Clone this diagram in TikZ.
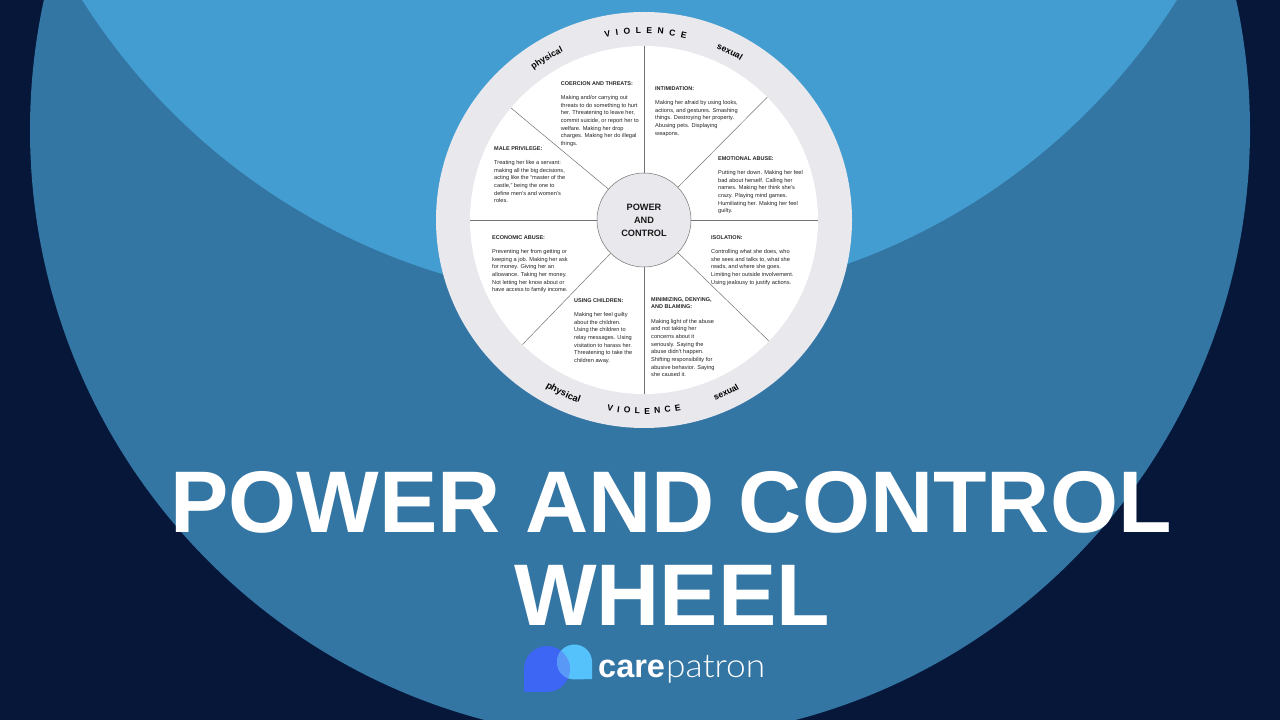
\documentclass[tikz,border=0pt]{standalone}
\usepackage{fontspec}
\usetikzlibrary{decorations.text}
\setmainfont{Liberation Sans}
\newfontfamily\logolight{Lato Light}
\definecolor{navybg}{HTML}{06173A}
\definecolor{midblue}{HTML}{3375A3}
\definecolor{skyblue}{HTML}{439DD0}
\definecolor{rimgrey}{HTML}{E8E8ED}
\definecolor{logoblue}{HTML}{3D66F5}
\definecolor{logosky}{HTML}{55C2FC}
\definecolor{logomix}{HTML}{5A98F8}
\tikzset{
  spoke/.style={draw=black!55,line width=0.5pt},
  wedgetext/.style={anchor=north west,inner sep=0pt,align=left,text=black!85,
    font=\fontsize{5.65}{7.65}\selectfont},
  arcword/.style={decorate,decoration={text along path,text align={center},
    text={|\fontsize{8.7}{10}\selectfont\bfseries|#1}}},
  arcwordb/.style={decorate,decoration={text along path,text align={center},
    text={|\fontsize{9.3}{10}\selectfont\bfseries|#1}}},
  arcfit/.style={decorate,decoration={text along path,text align={fit to path},
    text={|\fontsize{8.6}{10}\selectfont\bfseries|#1}}},
  titletext/.style={anchor=base,inner sep=0pt,text=white,
    font=\fontsize{87.5}{93}\selectfont\bfseries},
}
\newcommand{\hd}[1]{{\fontsize{5.5}{7.65}\selectfont\textbf{#1}}\\[7pt]}
\begin{document}
\begin{tikzpicture}[x=1pt,y=1pt]
\useasboundingbox (0,0) rectangle (1280,720);
\fill[navybg] (0,0) rectangle (1280,720);
\begin{scope}
\clip (0,0) rectangle (1280,720);
\fill[midblue] (640,590) circle (610);
\fill[skyblue] (629.5,1066) circle (647.5);
\end{scope}
% wheel
\begin{scope}[shift={(644,500)}]
\fill[rimgrey] (0,0) circle (208);
\fill[white] (0,0) circle (174);
\node[circle,draw=black!55,line width=0.5pt,fill=rimgrey,minimum size=94pt,inner sep=0pt,align=center,
  font=\fontsize{9.2}{13}\selectfont\bfseries,text=black!90] (hub) at (0,0) {POWER\\AND\\CONTROL};
\coordinate (rimN) at (90:174);
\coordinate (rimS) at (270:174);
\coordinate (rimW) at (180:174);
\coordinate (rimE) at (0:174);
\coordinate (rimNE) at (44.9:174);
\coordinate (rimNW) at (139.9:174);
\coordinate (rimSW) at (225.7:174);
\coordinate (rimSE) at (-44.1:174);
\foreach \r/\a in {rimN/90,rimS/270,rimW/180,rimE/0,rimNE/44.9,rimNW/139.9,rimSW/225.7,rimSE/-44.1}
  \draw[spoke] (\r) -- (hub.\a);
\path[arcfit={V I O L E N C E}] (102:186.5) arc (102:77:186.5);
\path[arcword={physical}] (132:186.5) arc (132:110:186.5);
\path[arcword={sexual}] (74:186.5) arc (74:52:186.5);
\path[arcfit={V I O L E N C E}] (259:194) arc (259:281:194);
\path[arcwordb={physical}] (233:194) arc (233:257:194);
\path[arcword={sexual}] (284:194) arc (284:307:194);
\end{scope}
% wedge texts
\node[wedgetext] (coercion) at (560.7,639) {\hd{COERCION AND THREATS:}Making and/or carrying out\\threats to do something to hurt\\her. Threatening to leave her,\\commit suicide, or report her to\\welfare. Making her drop\\charges. Making her do illegal\\things.};
\node[wedgetext] (intim) at (655,634) {\hd{INTIMIDATION:}Making her afraid by using looks,\\actions, and gestures. Smashing\\things. Destroying her property.\\Abusing pets. Displaying\\weapons.};
\node[wedgetext] (male) at (494,574) {\hd{MALE PRIVILEGE:}Treating her like a servant:\\making all the big decisions,\\acting like the ``master of the\\castle,'' being the one to\\define men's and women's\\roles.};
\node[wedgetext] (emo) at (718,564) {\hd{EMOTIONAL ABUSE:}Putting her down. Making her feel\\bad about herself. Calling her\\names. Making her think she's\\crazy. Playing mind games.\\Humiliating her. Making her feel\\guilty.};
\node[wedgetext] (econ) at (492,485) {\hd{ECONOMIC ABUSE:}Preventing her from getting or\\keeping a job. Making her ask\\for money. Giving her an\\allowance. Taking her money.\\Not letting her know about or\\have access to family income.};
\node[wedgetext] (iso) at (711,485) {\hd{ISOLATION:}Controlling what she does, who\\she sees and talks to, what she\\reads, and where she goes.\\Limiting her outside involvement.\\Using jealousy to justify actions.};
\node[wedgetext] (child) at (574,422) {\hd{USING CHILDREN:}Making her feel guilty\\about the children.\\Using the children to\\relay messages. Using\\visitation to harass her.\\Threatening to take the\\children away.};
\node[wedgetext] (mini) at (651,423) {\textbf{\fontsize{5.5}{7.65}\selectfont MINIMIZING, DENYING,}\\\hd{AND BLAMING:}Making light of the abuse\\and not taking her\\concerns about it\\seriously. Saying the\\abuse didn't happen.\\Shifting responsibility for\\abusive behavior. Saying\\she caused it.};
% title
\node[titletext] (title1) at (671,187) {POWER AND CONTROL};
\node[titletext] (title2) at (672,94) {WHEEL};
% logo
\fill[logoblue] (524,28) -- (524,51) arc (180:0:23) arc (0:-90:23) -- cycle;
\fill[logosky] (592,41) -- (592,58) arc (0:180:17.5) arc (180:270:17.5) -- cycle;
\begin{scope}
\clip (524,28) -- (524,51) arc (180:0:23) arc (0:-90:23) -- cycle;
\fill[logomix] (592,41) -- (592,58) arc (0:180:17.5) arc (180:270:17.5) -- cycle;
\end{scope}
\node[anchor=base west,inner sep=0pt,text=white,font=\fontsize{32.5}{36}\selectfont\bfseries] (logocare) at (598,42) {care};
\node[anchor=base west,inner sep=0pt,text=white,font=\fontsize{33}{36}\logolight] (logopatron) at (666,42) {\scalebox{1.07}[1]{patron}};
\end{tikzpicture}
\end{document}
